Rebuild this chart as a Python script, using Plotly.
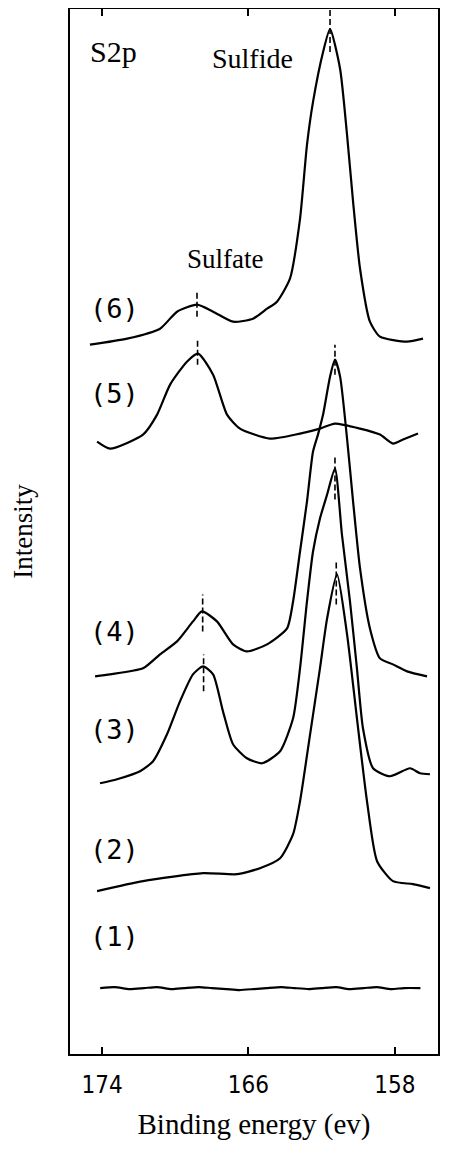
import plotly.graph_objects as go

# Binding energies (eV) and intensities (arb. units, offset stacked)
e6 = [174.66,172.63,170.83,169.90,168.81,167.93,166.84,165.75,164.98,164.44,163.73,163.18,162.80,162.47,161.92,161.54,160.99,160.61,160.28,159.90,159.36,158.81,157.33,156.46]
i6 = [710,716,726,743,750,743,733,736,746,753,776,836,910,953,1003,1026,986,920,853,786,733,718,713,716]

e5 = [174.27,173.56,171.76,170.99,170.28,169.36,168.75,167.93,167.17,166.46,164.82,163.18,162.09,161.27,159.90,158.81,158.10,157.55,156.73]
i5 = [613,606,620,640,670,693,701,680,640,626,616,621,626,631,626,620,611,615,621]

e4 = [174.38,173.56,171.76,170.83,169.90,169.03,168.54,167.72,166.84,166.08,164.98,163.89,163.56,163.18,162.80,162.47,162.20,161.92,161.54,161.27,160.99,160.61,160.28,159.90,159.36,158.81,158.10,157.33,156.24]
i4 = [378,380,386,400,413,433,443,433,410,403,410,426,453,503,553,603,620,640,678,695,678,616,553,486,426,396,390,383,378]

e3 = [174.11,173.18,171.92,171.21,170.45,169.74,169.03,168.48,167.93,167.39,166.84,166.08,165.26,164.27,163.56,163.18,162.80,162.47,162.09,161.70,161.27,160.89,160.45,160.07,159.74,159.19,158.26,157.17,156.62,156.08]
i3 = [271,275,283,293,320,353,380,388,380,343,310,296,291,303,336,386,453,503,536,560,586,520,453,386,326,286,278,286,281,280]

e2 = [174.27,171.76,168.48,166.62,165.37,164.27,163.56,163.18,162.63,162.09,161.70,161.16,160.61,160.07,159.52,158.97,158.10,157.01,156.08]
i2 = [163,173,181,180,186,196,220,253,320,386,436,480,420,336,253,193,173,170,166]

e1 = [174.1,173.3,172.5,171.7,171.0,170.2,169.5,168.7,168.0,167.2,166.5,165.7,165.0,164.2,163.5,162.7,162.0,161.2,160.5,159.7,159.0,158.2,157.5,156.6]
i1 = [66,67,65,66,67,65,66,67,66,65,64,65,66,67,66,65,66,67,65,66,67,65,66,66]

# peak position markers: energy, low, high
mark_e = [161.54, 168.81, 168.78, 168.50, 168.45, 161.27, 161.27, 161.20]
mark_lo = [1003, 738, 690, 423, 363, 680, 555, 450]
mark_hi = [1045, 763, 715, 460, 400, 710, 600, 495]

labels = ["(6)", "(5)", "(4)", "(3)", "(2)", "(1)"]
label_i = [746, 661, 423, 325, 205, 118]

xticks = [174, 166, 158]

fig = go.Figure()
for e, i in [(e6, i6), (e5, i5), (e4, i4), (e3, i3), (e2, i2), (e1, i1)]:
    fig.add_trace(go.Scatter(x=e, y=i, mode="lines", line=dict(color="black", width=2.2, shape="spline", smoothing=0.6), hoverinfo="skip"))
for e, lo, hi in zip(mark_e, mark_lo, mark_hi):
    fig.add_trace(go.Scatter(x=[e, e], y=[lo, hi], mode="lines", line=dict(color="black", width=1.6, dash="6px,3px"), hoverinfo="skip"))

for t, yv in zip(labels, label_i):
    fig.add_annotation(x=173.3, y=yv, text=t, showarrow=False, xanchor="center",
                       font=dict(family="DejaVu Sans Mono", size=27, color="black"))
fig.add_annotation(x=173.4, y=1003, text="S2p", showarrow=False, font=dict(family="Liberation Serif", size=30, color="black"))
fig.add_annotation(x=165.8, y=996, text="Sulfide", showarrow=False, font=dict(family="Liberation Serif", size=28, color="black"))
fig.add_annotation(x=167.3, y=796, text="Sulfate", showarrow=False, font=dict(family="Liberation Serif", size=27, color="black"))

fig.update_layout(
    width=458, height=1159, showlegend=False,
    paper_bgcolor="white", plot_bgcolor="white",
    margin=dict(l=62, r=28, t=1, b=113),
    xaxis=dict(range=[175.75, 155.64], tickvals=xticks, ticktext=[str(v) for v in xticks],
               ticks="inside", ticklen=7, tickwidth=1.5, tickcolor="black",
               showline=True, linecolor="black", linewidth=2, mirror="allticks",
               showgrid=False, zeroline=False, automargin=False, ticklabelstandoff=8,
               tickfont=dict(family="DejaVu Sans Condensed", size=24, color="black"),
               title=dict(text="Binding energy (ev)", font=dict(family="Liberation Serif", size=29, color="black"), standoff=16)),
    yaxis=dict(range=[0, 1046], showticklabels=False, ticks="",
               showline=True, linecolor="black", linewidth=2, mirror=True,
               showgrid=False, zeroline=False, automargin=False,
               title=dict(text="Intensity", font=dict(family="Liberation Serif", size=27, color="black"), standoff=32)),
)
fig.write_html("out.html")
